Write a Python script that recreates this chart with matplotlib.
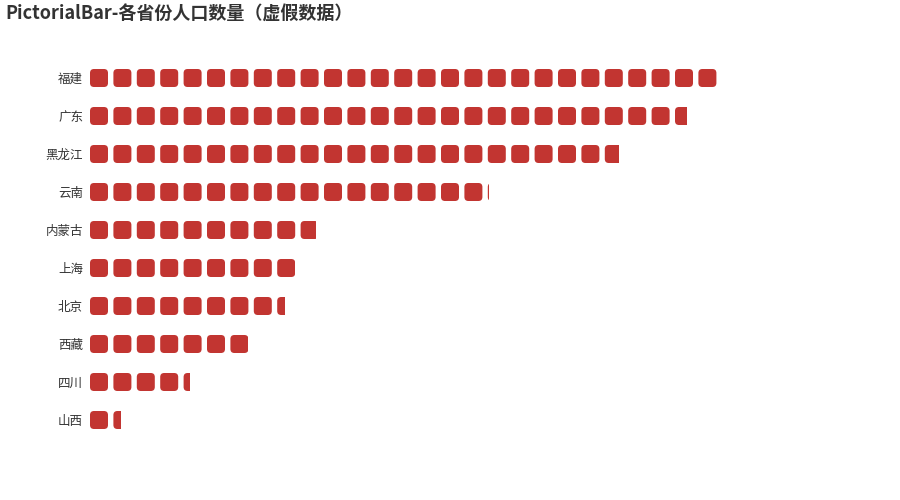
import matplotlib
matplotlib.use("Agg")
import matplotlib.pyplot as plt
from matplotlib.patches import FancyBboxPatch, Rectangle
import math

plt.rcParams['font.family'] = ['Noto Sans CJK SC', 'DejaVu Sans']

provinces = ['福建', '广东', '黑龙江', '云南', '内蒙古', '上海', '北京', '西藏', '四川', '山西']
values = [26.8, 25.5, 22.6, 17.05, 9.66, 8.76, 8.33, 6.75, 4.27, 1.32]
color = '#c23531'

fig = plt.figure(figsize=(9, 5), dpi=100)
ax = fig.add_axes([90/900, 1-439/500, 720/900, 380/500])
ax.set_xlim(0, 720/23.4)
n = len(provinces)
ax.set_ylim(n - 0.5, -0.5)
px_x, px_y = 23.4, 38.0
w = 18/px_x
h = 18/px_y
r = 4/px_x
for j, (p, v) in enumerate(zip(provinces, values)):
    clip = Rectangle((0, j - 0.5), v, 1, transform=ax.transData)
    for i in range(math.ceil(v)):
        b = FancyBboxPatch((i + r, j - h/2 + r*px_x/px_y), w - 2*r, h - 2*r*px_x/px_y,
                           boxstyle=f"round,pad={r},rounding_size={r}",
                           mutation_aspect=px_x/px_y, fc=color, ec='none')
        ax.add_patch(b)
        b.set_clip_path(clip)
ax.set_yticks(range(n))
ax.set_yticklabels(provinces, fontsize=9, color='#333333')
ax.tick_params(axis='y', length=0, pad=5)
ax.set_xticks([])
for s in ax.spines.values():
    s.set_visible(False)
fig.text(5/900, 1-14/500, 'PictorialBar-各省份人口数量（虚假数据）', fontsize=13,
         fontweight='bold', color='#333333', va='center', ha='left')
fig.savefig('out.png', dpi=100)
